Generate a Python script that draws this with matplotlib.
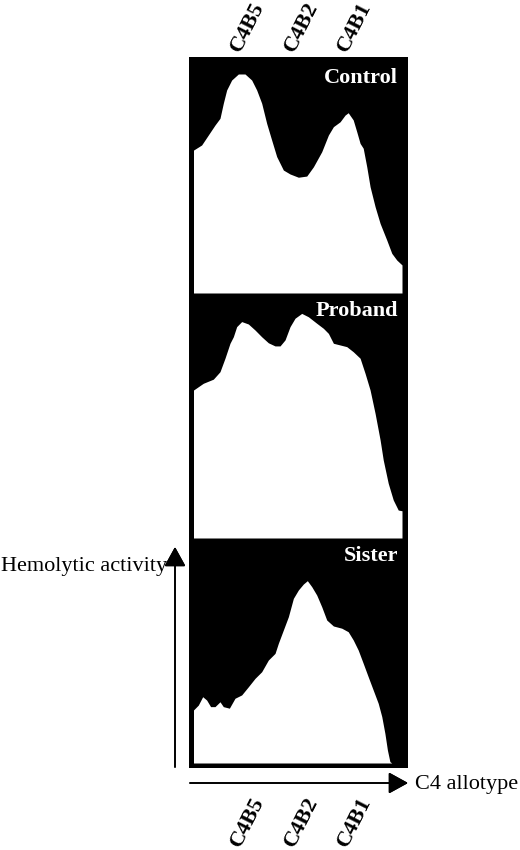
import matplotlib
matplotlib.use("Agg")
import matplotlib.pyplot as plt
import matplotlib.transforms as mtransforms

plt.rcParams['font.family'] = ['Liberation Serif', 'DejaVu Serif']

# densitometric scans, x = migration position (% of lane), y = activity (% of panel)
allotypes = ["C4B5", "C4B2", "C4B1"]
allotype_pos = [26, 52, 77]

control_x = [0, 3.9, 7.1, 10.3, 12.7, 14.3, 15.9, 18.3, 21.5, 24.7, 27.9, 30.3, 32.7,
             35.1, 37.5, 39.9, 43.1, 46.3, 50.3, 54.3, 57.5, 61.5, 64.7, 67.1, 70.3,
             72.7, 74.2, 76.6, 78.3, 79.9, 81.4, 83.1, 84.7, 87.1, 89.5, 92.7, 95.1,
             97.5, 100]
control_y = [61.6, 63.8, 68.1, 72.4, 75.3, 81.8, 87.5, 91.8, 94.4, 94.4, 91.8, 87.5, 81.8,
             73.1, 65.9, 58.8, 53.0, 51.3, 49.9, 50.4, 54.4, 60.9, 68.1, 71.7, 73.8,
             76.7, 77.7, 74.6, 69.5, 64.5, 62.4, 54.4, 45.8, 37.2, 30.0, 22.8, 17.1,
             14.2, 12.1]

proband_x = [0, 4.7, 9.5, 12.7, 15.1, 17.5, 19.1, 20.7, 23.1, 26.3, 29.5, 32.7, 35.9,
             39.1, 41.5, 43.9, 46.3, 48.7, 51.9, 55.1, 59.1, 62.3, 64.7, 67.1, 70.3,
             73.5, 76.6, 79.9, 82.3, 84.7, 87.1, 89.5, 91.0, 93.4, 95.8, 98.2, 100]
proband_y = [61.4, 64.2, 65.9, 69.0, 74.6, 80.8, 83.5, 87.7, 89.8, 88.8, 86.3, 83.5, 81.0,
             79.7, 79.7, 82.2, 87.7, 91.2, 93.2, 91.8, 89.1, 87.0, 84.9, 80.8, 80.1,
             79.4, 77.3, 74.6, 68.3, 61.4, 51.7, 40.7, 32.4, 22.7, 15.8, 11.6, 11.3]

sister_x = [0, 2.3, 4.4, 6.3, 8.2, 10.3, 12.7, 14.3, 17.2, 19.9, 23.1, 26.3, 29.5,
            32.7, 35.9, 39.1, 40.7, 43.1, 45.5, 47.9, 50.3, 52.7, 54.6, 56.7, 59.1,
            61.5, 63.9, 67.1, 71.1, 74.2, 76.6, 79.0, 81.4, 83.8, 86.2, 88.6, 90.3,
            91.8, 93.0, 94.2, 95.1]
sister_y = [24.0, 26.2, 30.0, 28.5, 25.5, 25.5, 27.7, 25.5, 24.8, 29.3, 30.8, 34.5, 38.3,
            41.3, 46.6, 49.6, 54.2, 60.2, 66.2, 74.5, 78.3, 81.0, 82.5, 79.8, 76.0,
            70.7, 64.7, 62.0, 61.0, 59.4, 55.7, 51.1, 45.1, 39.0, 33.0, 27.0, 21.0,
            13.4, 5.9, 0.6, 0]

W, H = 520, 850


def box(x0, y0, x1, y1):
    # pixel box (top-left origin) -> figure fraction rect
    return [x0 / W, 1 - y1 / H, (x1 - x0) / W, (y1 - y0) / H]


fig = plt.figure(figsize=(W / 100, H / 100), dpi=100)

frame = fig.add_axes(box(189, 57, 408, 768))
frame.set_facecolor("black")
frame.set_xticks([])
frame.set_yticks([])
for s in frame.spines.values():
    s.set_visible(False)

panels = [
    ("Control", control_x, control_y, (193.5, 61, 402, 293), 0.925),
    ("Proband", proband_x, proband_y, (193.5, 297, 402, 538), 0.94),
    ("Sister", sister_x, sister_y, (193.5, 542, 402, 763), 0.935),
]

axes = []
for name, xs, ys, rect, ly in panels:
    ax = fig.add_axes(box(*rect))
    ax.set_facecolor("black")
    ax.fill_between(xs, 0, ys, color="white", lw=0)
    ax.set_xlim(0, 100)
    ax.set_ylim(0, 100)
    ax.set_xticks([])
    ax.set_yticks([])
    for s in ax.spines.values():
        s.set_visible(False)
    ax.text(0.98, ly, name, transform=ax.transAxes, ha="right", va="center",
            color="white", fontsize=16, fontweight="bold")
    axes.append(ax)

# allotype labels above the first and below the last panel
top_tr = mtransforms.blended_transform_factory(axes[0].transData, fig.transFigure)
bot_tr = mtransforms.blended_transform_factory(axes[2].transData, fig.transFigure)
for lab, pos in zip(allotypes, allotype_pos):
    axes[0].text(pos, 1 - 27 / H, lab, transform=top_tr, rotation=63,
                 ha="center", va="center", fontsize=16, fontweight="bold")
    axes[2].text(pos, 1 - 822 / H, lab, transform=bot_tr, rotation=63,
                 ha="center", va="center", fontsize=16, fontweight="bold")

arrow = dict(arrowstyle="-|>,head_length=0.6,head_width=0.33", color="black",
             lw=1.2, shrinkA=0, shrinkB=0, mutation_scale=20)
fig.add_artist(plt.annotate("", xy=(175, H - 547), xytext=(175, H - 767),
                            xycoords="figure pixels", textcoords="figure pixels",
                            arrowprops=arrow))
fig.add_artist(plt.annotate("", xy=(408, H - 783), xytext=(190, H - 783),
                            xycoords="figure pixels", textcoords="figure pixels",
                            arrowprops=arrow))
fig.text(1 / W, 1 - 566 / H, "Hemolytic activity", ha="left", va="center", fontsize=16)
fig.text(415 / W, 1 - 784 / H, "C4 allotype", ha="left", va="center", fontsize=16)

fig.savefig("out.png", dpi=100)
